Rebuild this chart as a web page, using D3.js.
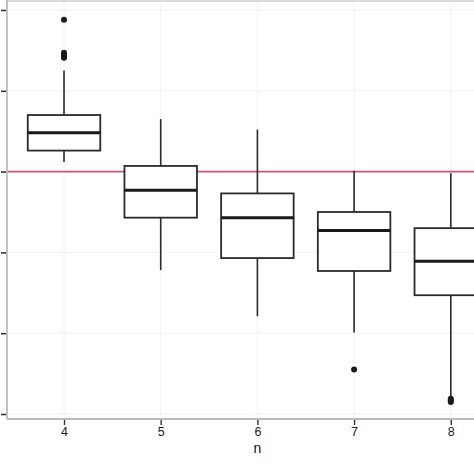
<!DOCTYPE html>
<html lang="en">
<head>
    <meta charset="UTF-8">
    <title>Boxplot by n</title>
    <script src="https://cdnjs.cloudflare.com/ajax/libs/d3/7.8.5/d3.min.js"></script>
    <style>
        body {
            margin: 0;
            padding: 0;
            background-color: white;
            font-family: 'Liberation Sans', Arial, sans-serif;
        }
        #chart {
            width: 474px;
            height: 474px;
            overflow: hidden;
        }
    </style>
</head>
<body>
    <div id="chart"></div>

    <script>
        // Data
        const categories = ["4", "5", "6", "7", "8"];
        const whiskerLow = [0.12, -1.22, -1.79, -1.99, -2.79];
        const q1 = [0.26, -0.57, -1.07, -1.23, -1.53];
        const median = [0.48, -0.23, -0.57, -0.73, -1.11];
        const q3 = [0.70, 0.07, -0.27, -0.50, -0.70];
        const whiskerHigh = [1.25, 0.65, 0.52, 0.01, -0.02];
        const outlierCats = ["4", "4", "4", "4", "4", "7", "8", "8", "8"];
        const outlierVals = [1.88, 1.47, 1.45, 1.43, 1.41, -2.45, -2.81, -2.83, -2.85];
        const yTicks = [-3, -2, -1, 0, 1, 2];
        const refLine = 0;

        const width = 474;
        const height = 474;

        const svg = d3.select("#chart")
            .append("svg")
            .attr("width", width)
            .attr("height", height);

        // Scales (panel runs past the right edge, as in the cropped original)
        const x = d3.scalePoint()
            .domain(categories)
            .range([6, 508.8])
            .padding(0.6);

        const y = d3.scaleLinear()
            .domain([-3, 2])
            .range([414, 10]);

        const panelTop = 1;
        const panelBottom = 419;
        const panelLeft = 7;
        const boxW = x.step() * 0.75;

        // grid
        svg.append("g")
            .selectAll("line")
            .data(yTicks)
            .join("line")
            .attr("x1", panelLeft)
            .attr("x2", width)
            .attr("y1", d => y(d))
            .attr("y2", d => y(d))
            .attr("stroke", "#f2f2f2")
            .attr("stroke-width", 1);

        svg.append("g")
            .selectAll("line")
            .data(categories)
            .join("line")
            .attr("x1", d => x(d))
            .attr("x2", d => x(d))
            .attr("y1", panelTop)
            .attr("y2", panelBottom)
            .attr("stroke", "#f2f2f2")
            .attr("stroke-width", 1);

        // reference line
        svg.append("line")
            .attr("x1", panelLeft)
            .attr("x2", width)
            .attr("y1", y(refLine))
            .attr("y2", y(refLine))
            .attr("stroke", "#cf5470")
            .attr("stroke-width", 1.6);

        const rows = categories.map((c, i) => ({
            cat: c,
            lo: whiskerLow[i],
            q1: q1[i],
            med: median[i],
            q3: q3[i],
            hi: whiskerHigh[i]
        }));

        const boxes = svg.append("g")
            .selectAll("g")
            .data(rows)
            .join("g");

        // whiskers
        boxes.append("line")
            .attr("x1", d => x(d.cat))
            .attr("x2", d => x(d.cat))
            .attr("y1", d => y(d.hi))
            .attr("y2", d => y(d.q3))
            .attr("stroke", "#2a2a2a")
            .attr("stroke-width", 1.6);

        boxes.append("line")
            .attr("x1", d => x(d.cat))
            .attr("x2", d => x(d.cat))
            .attr("y1", d => y(d.q1))
            .attr("y2", d => y(d.lo))
            .attr("stroke", "#2a2a2a")
            .attr("stroke-width", 1.6);

        boxes.append("rect")
            .attr("x", d => x(d.cat) - boxW / 2)
            .attr("width", boxW)
            .attr("y", d => y(d.q3))
            .attr("height", d => y(d.q1) - y(d.q3))
            .attr("fill", "white")
            .attr("stroke", "#2a2a2a")
            .attr("stroke-width", 1.8);

        boxes.append("line")
            .attr("x1", d => x(d.cat) - boxW / 2)
            .attr("x2", d => x(d.cat) + boxW / 2)
            .attr("y1", d => y(d.med))
            .attr("y2", d => y(d.med))
            .attr("stroke", "#1a1a1a")
            .attr("stroke-width", 3);

        // outliers
        svg.append("g")
            .selectAll("circle")
            .data(outlierVals)
            .join("circle")
            .attr("cx", (d, i) => x(outlierCats[i]))
            .attr("cy", d => y(d))
            .attr("r", 3)
            .attr("fill", "#1a1a1a");

        // panel lines
        svg.append("line")
            .attr("x1", panelLeft).attr("x2", width)
            .attr("y1", panelTop).attr("y2", panelTop)
            .attr("stroke", "#dcdcdc").attr("stroke-width", 2);

        svg.append("line")
            .attr("x1", panelLeft).attr("x2", panelLeft)
            .attr("y1", 0).attr("y2", panelBottom)
            .attr("stroke", "#bbb").attr("stroke-width", 1.8);

        svg.append("line")
            .attr("x1", panelLeft).attr("x2", width)
            .attr("y1", panelBottom).attr("y2", panelBottom)
            .attr("stroke", "#bbb").attr("stroke-width", 1.8);

        // y axis ticks (labels are cut off in the original)
        const yAxis = d3.axisLeft(y).tickValues(yTicks).tickSize(5).tickFormat("");
        const gy = svg.append("g")
            .attr("transform", `translate(${panelLeft - 1},0)`)
            .call(yAxis);
        gy.select(".domain").remove();
        gy.selectAll(".tick line").attr("stroke", "#333").attr("stroke-width", 1.6);

        // x axis
        const xAxis = d3.axisBottom(x).tickSize(5).tickPadding(2);
        const gx = svg.append("g")
            .attr("transform", `translate(0,${panelBottom + 1})`)
            .call(xAxis);
        gx.select(".domain").remove();
        gx.selectAll(".tick line").attr("stroke", "#333").attr("stroke-width", 1.4);
        gx.selectAll(".tick text")
            .attr("fill", "#1a1a1a")
            .style("font-size", "12.5px")
            .style("font-family", "'Liberation Sans', Arial, sans-serif");

        svg.append("text")
            .attr("x", x("6"))
            .attr("y", 453)
            .attr("text-anchor", "middle")
            .attr("fill", "#111")
            .style("font-size", "14px")
            .text("n");
    </script>
</body>
</html>
